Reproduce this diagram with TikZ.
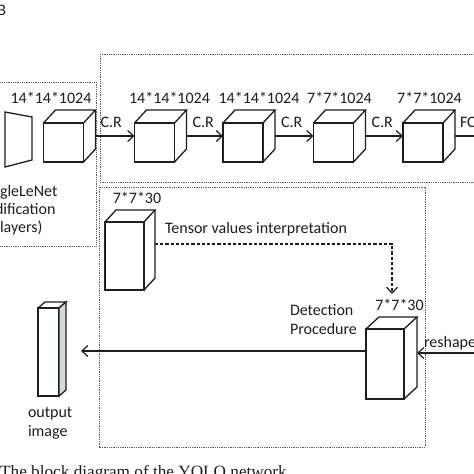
\documentclass[tikz,border=0pt]{standalone}
\usepackage{fontspec}
\setmainfont{Carlito}
\newfontfamily\capfont{Liberation Serif}
\usetikzlibrary{calc,arrows.meta}
\definecolor{ink}{HTML}{1E1E1E}
\definecolor{dotgray}{HTML}{5A5A5A}
\definecolor{sidegray}{HTML}{D3DADA}
\tikzset{
  cubeface/.style={draw=ink, line width=1.3pt, inner sep=0pt, outer sep=0pt, fill=white},
  cubeline/.style={draw=ink, line width=1.3pt, line join=miter},
  dotbox/.style={draw=dotgray, line width=0.9pt, dash pattern=on 0.9pt off 0.9pt},
  arr/.style={draw=ink, line width=1.2pt, -{Straight Barb[length=6pt,width=11pt,line width=1.2pt]}},
  darr/.style={draw=ink, line width=1.2pt, dash pattern=on 3.2pt off 2pt, -{Straight Barb[length=6pt,width=11pt,line width=1.2pt]}},
  lab/.style={inner sep=0pt, outer sep=0pt, text=ink, font=\fontsize{16}{19}\selectfont},
}
\newcommand\drawcube[6]{%
  \node[cubeface, minimum width=#3pt, minimum height=#4pt] (#1) at #2 {};
  \draw[cubeline] (#1.north west) -- ++(#5,-#6) -- ($(#1.north east)+(#5,-#6)$) -- (#1.north east);
  \draw[cubeline] ($(#1.north east)+(#5,-#6)$) -- ($(#1.south east)+(#5,-#6)$) -- (#1.south east);
}
\begin{document}
\begin{tikzpicture}[x=1pt,y=-1pt]
\useasboundingbox (0,0) rectangle (474,474);
\clip (0,0) rectangle (474,474);
\fill[white] (0,0) rectangle (474,474);

% dotted frames
\draw[dotbox] (-5,82) rectangle (96,246);
\draw[dotbox] (100,54) rectangle (480,182);
\draw[dotbox] (99,187) rectangle (425,447);

% corner label
\node[lab, anchor=base west] (blab) at (-2.5,15) {B};

% trapezoid (GoogleLeNet)
\coordinate (tr1) at (5,112);
\coordinate (tr2) at (32,117);
\coordinate (tr3) at (32,160);
\coordinate (tr4) at (5,167);
\draw[cubeline] (tr1) -- (tr2) -- (tr3) -- (tr4) -- cycle;

\node[lab, anchor=base west] (g1) at (0,196) {gleLeNet};
\node[lab, anchor=base west] (g2) at (-5,214) {dification};
\node[lab, anchor=base west] (g3) at (0,232) {layers)};

% cubes of the top row
\drawcube{c1}{(63.5,142.5)}{40}{39}{12}{13}
\drawcube{c2}{(154.5,142.5)}{40}{39}{12}{13}
\drawcube{c3}{(243,142.5)}{40}{39}{12}{13}
\drawcube{c4}{(333.5,142.5)}{40}{39}{12}{13}
\drawcube{c5}{(423,142.5)}{40}{39}{12}{13}

\node[lab, anchor=base] (l1) at (51,103) {14*14*1024};
\node[lab, anchor=base] (l2) at (169.5,103) {14*14*1024};
\node[lab, anchor=base] (l3) at (259,103) {14*14*1024};
\node[lab, anchor=base] (l4) at (339.5,103) {7*7*1024};
\node[lab, anchor=base] (l5) at (429.5,103) {7*7*1024};

\draw[arr] ($(c1.east)+(12,-6.5)$) -- ($(c2.west)+(0,-6.5)$);
\draw[arr] ($(c2.east)+(12,-6.5)$) -- ($(c3.west)+(0,-6.5)$);
\draw[arr] ($(c3.east)+(12,-6.5)$) -- ($(c4.west)+(0,-6.5)$);
\draw[arr] ($(c4.east)+(12,-6.5)$) -- ($(c5.west)+(0,-6.5)$);
\node[lab, anchor=base west] (cr1) at ($(c1.east)+(17,-15.5)$) {C.R};
\node[lab, anchor=base west] (cr2) at ($(c2.east)+(18,-15.5)$) {C.R};
\node[lab, anchor=base west] (cr3) at ($(c3.east)+(18,-15.5)$) {C.R};
\node[lab, anchor=base west] (cr4) at ($(c4.east)+(18,-15.5)$) {C.R};

\coordinate (fcend) at (480,136);
\draw[cubeline] ($(c5.east)+(12,-6.5)$) -- (fcend);
\node[lab, anchor=base west] (fc) at (460,127) {FC};

% lower part
\drawcube{t1}{(124.5,256)}{39}{68}{11}{12}
\node[lab, anchor=base] (t1lab) at (137,203) {7*7*30};
\node[lab, anchor=base west] (tens) at (165,233) {Tensor values interpretation};

\drawcube{t2}{(385,364)}{38}{70}{13}{12}
\node[lab, anchor=base] (t2lab) at (399.5,310) {7*7*30};
\node[lab, anchor=base west] (det) at (290,315) {Detection};
\node[lab, anchor=base west] (proc) at (290,334) {Procedure};

\coordinate (dtip) at (392,294);
\draw[darr] ($(t1.east)+(11,-12)$) -| (dtip);

\coordinate (rsstart) at (480,353);
\draw[arr] (rsstart) -- ($(t2.east)+(13,-11)$);
\node[lab, anchor=base west] (rs) at (424,347) {reshape};

% output column
\node[cubeface, minimum width=21pt, minimum height=88pt] (o1) at (48.5,352) {};
\draw[cubeline] (o1.north west) -- ++(7,-6) -- ($(o1.north east)+(7,-6)$) -- (o1.north east);
\draw[cubeline, fill=sidegray] (o1.north east) -- ($(o1.north east)+(7,-6)$) -- ($(o1.south east)+(7,-6)$) -- (o1.south east) -- cycle;
\node[lab, anchor=base west] (out1) at (28,417) {output};
\node[lab, anchor=base west] (out2) at (28,436) {image};

\coordinate (otip) at (81,351);
\draw[arr] ($(t2.west)+(0,-13)$) -- (otip);

% caption (cut at the bottom edge)
\node[inner sep=0pt, anchor=base west, text=ink, font=\capfont\fontsize{17.2}{20}\selectfont] (cap) at (0,477) {The block diagram of the YOLO network};
\end{tikzpicture}
\end{document}
